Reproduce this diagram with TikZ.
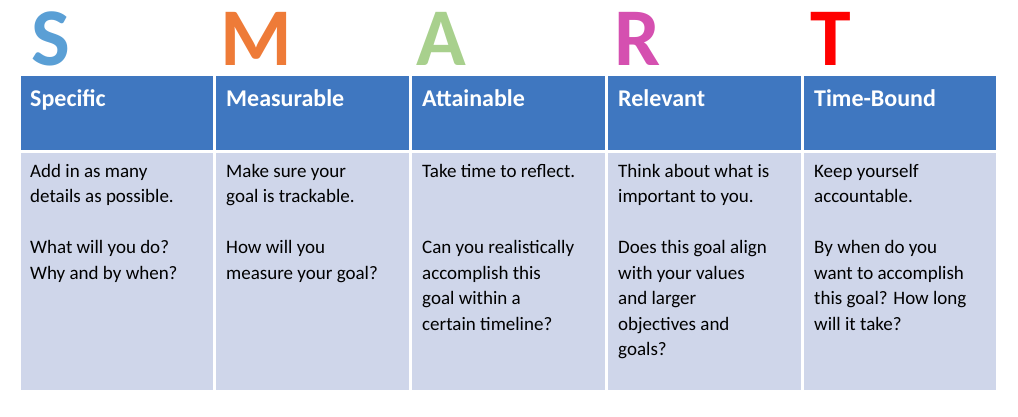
\documentclass[tikz,border=0pt]{standalone}
\usepackage{fontspec}
\setmainfont{Carlito}
\definecolor{hdr}{HTML}{3F77C0}
\definecolor{bdy}{HTML}{CFD6EA}
\definecolor{cS}{HTML}{5A9FD5}
\definecolor{cM}{HTML}{EE7B38}
\definecolor{cA}{HTML}{A8D08D}
\definecolor{cR}{HTML}{D550B0}
\definecolor{cT}{HTML}{FF0000}
\begin{document}
\begin{tikzpicture}[x=1pt,y=-1pt,
  letter/.style={anchor=base west,inner sep=0pt,font=\fontsize{82}{82}\selectfont\bfseries},
  head/.style={anchor=base west,inner sep=0pt,text=white,font=\fontsize{24}{24}\selectfont\bfseries},
  line/.style={anchor=base west,inner sep=0pt,font=\fontsize{19}{19}\selectfont},
  cellbox/.style={draw=white,line width=3pt}]
\useasboundingbox (0,0) rectangle (1018,416);
\foreach \a/\b [count=\i] in {19/214,214/410,410/606,606/802,802/997}{
  \path[cellbox,fill=hdr] (\a,74) rectangle (\b,151) node[pos=0,coordinate] (h\i) {};
  \path[cellbox,fill=bdy] (\a,151) rectangle (\b,391) node[pos=0,coordinate] (c\i) {};
}
\node[letter,text=cS] (LS) at (31,65) {S};
\node[letter,text=cM] (LM) at (220,65) {M};
\node[letter,text=cA] (LA) at (416,65) {A};
\node[letter,text=cR] (LR) at (614,65) {R};
\node[letter,text=cT] (LT) at (810,65) {T};
\foreach \x/\t [count=\i] in {30/Specific,226/Measurable,422/Attainable,618/Relevant,814/Time-Bound}
  \node[head] (H\i) at (\x,106) {\t};
\foreach \x/\y/\t [count=\i] in {
 30/177/Add in as many, 30/202.5/details as possible., 30/253.5/What will you do?, 30/279/Why and by when?,
 226/177/Make sure your, 226/202.5/goal is trackable., 226/253.5/How will you, 226/279/measure your goal?,
 422/177/Take time to reflect., 422/253.5/Can you realistically, 422/279/accomplish this, 422/304.5/goal within a, 422/330/certain timeline?,
 618/177/Think about what is, 618/202.5/important to you., 618/253.5/Does this goal align, 618/279/with your values, 618/304.5/and larger, 618/330/objectives and, 618/355.5/goals?,
 814/177/Keep yourself, 814/202.5/accountable., 814/253.5/By when do you, 814/279/want to accomplish, 814/304.5/this goal? How long, 814/330/will it take?}
  \node[line] (t\i) at (\x,\y) {\t};
\end{tikzpicture}
\end{document}
